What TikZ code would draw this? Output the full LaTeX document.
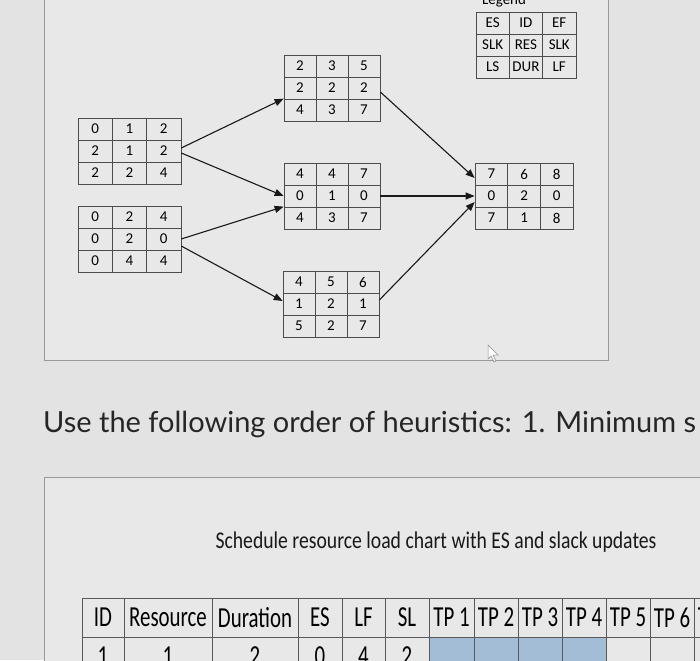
\documentclass[tikz,border=0pt]{standalone}
\usepackage{fontspec}
\usepackage{xcolor}
\usepackage{tikz}
\usetikzlibrary{arrows.meta}

\newfontfamily\cellfont{Carlito}
\newfontfamily\titlefont[FakeStretch=0.82]{Carlito}
\newfontfamily\tabfont[FakeStretch=0.72]{Carlito}
\newfontfamily\promptfont{Lato}

\definecolor{screen}{RGB}{226,227,226}
\definecolor{paper}{RGB}{231,232,231}
\definecolor{tpblue}{RGB}{163,189,214}

% activity box: name, left x, top y, cell width, nine entries (row by row)
\newcommand{\actbox}[5]{%
  \foreach \val [count=\k from 0] in {#5} {%
    \pgfmathtruncatemacro{\rr}{div(\k,3)+1}%
    \pgfmathtruncatemacro{\cc}{mod(\k,3)+1}%
    \node[cell, minimum width=#4pt] (#1-\rr-\cc) at ({#2+(\cc-0.5)*#4}, {#3+(\rr-0.5)*\rowh}) {\val};
  }%
}

\begin{document}
\begin{tikzpicture}[x=1pt,y=-1pt]
        \def\rowh{22}
        \tikzstyle{cell}=[draw=black!70, line width=0.7pt, minimum height=22pt, inner sep=0pt, font=\cellfont\fontsize{15}{18}\selectfont]
        \tikzstyle{link}=[-{Triangle[length=9pt,width=7pt]}, line width=1.1pt, black!90]
        \tikzstyle{tabcell}=[draw=black!65, line width=0.8pt, minimum height=39pt, inner sep=0pt, font=\tabfont\fontsize{29}{31}\selectfont]

        \useasboundingbox (0,0) rectangle (700,660);
        \clip (0,0) rectangle (700,660);
        \fill[screen] (0,0) rectangle (700,660);

        % Panels
        \fill[paper] (44,-5) rectangle (608,360);
        \draw[black!40, line width=0.8pt] (44,-5) -- (44,360) -- (608,360) -- (608,-5);
        \fill[paper] (44,477) rectangle (720,700);
        \draw[black!40, line width=0.8pt] (44,700) -- (44,477) -- (720,477);

        % Nodes
        \node[anchor=base, font=\cellfont\fontsize{15}{18}\selectfont] (legtitle) at (504,5) {Legend};
        \actbox{leg}{476}{12}{33.3}{ES,ID,EF,SLK,RES,SLK,LS,DUR,LF}

        \actbox{a}{78}{118}{34.3}{0,1,2,2,1,2,2,2,4}
        \actbox{b}{78}{206}{34.3}{0,2,4,0,2,0,0,4,4}
        \actbox{c}{284}{55}{32}{2,3,5,2,2,2,4,3,7}
        \actbox{d}{284}{163}{32}{4,4,7,0,1,0,4,3,7}
        \actbox{e}{283}{271}{32}{4,5,6,1,2,1,5,2,7}
        \actbox{f}{475}{163}{32.7}{7,6,8,0,2,0,7,1,8}

        % Edges
        \draw[link] ([yshift=3pt]a-2-3.east) to (c-3-1.north west);
        \draw[link] ([yshift=-2pt]a-2-3.east) to (d-2-1.west);
        \draw[link] (b-2-3.east) to (d-3-1.north west);
        \draw[link] ([yshift=-7pt]b-2-3.east) to ([yshift=3pt]e-2-1.west);
        \draw[link] ([yshift=-4pt]c-2-3.east) to ([yshift=-4pt]f-1-1.west);
        \draw[link] (d-2-3.east) to (f-2-1.west);
        \draw[link] ([yshift=4pt]e-2-3.east) to ([yshift=-6pt]f-2-1.west);

        % mouse pointer
        \draw[black!45, fill=white, line width=0.5pt] (488,345) -- (488,359) -- (491,356) -- (494,362) -- (496,361) -- (493,355) -- (498,355) -- cycle;

        % Text
        \node[anchor=base west, inner sep=0pt, text=black!85, font=\promptfont\fontsize{29}{33}\selectfont] (prompt) at (43,432) {Use the following order of heuristics: 1. Minimum s};
        \node[anchor=base, inner sep=0pt, text=black!90, font=\titlefont\fontsize{24}{28}\selectfont] (charttitle) at (436,548) {Schedule resource load chart with ES and slack updates};

        % Load chart
        \fill[tpblue] (429,637) rectangle (606,680);
        \foreach \xl/\xr/\hd/\vl [count=\j] in {82/124/ID/1, 124/212/Resource/1, 212/298/Duration/2, 298/342/ES/0, 342/385/LF/4, 385/429/SL/2, 429/474/TP 1/, 474/518/TP 2/, 518/562/TP 3/, 562/606/TP 4/, 606/650/TP 5/, 650/694/TP 6/, 694/738/TP 7/} {
            \pgfmathsetmacro{\w}{\xr-\xl}
            \node[tabcell, minimum width=\w pt] (h-\j) at ({(\xl+\xr)/2}, 617.5) {\hd};
            \node[tabcell, minimum width=\w pt] (r-\j) at ({(\xl+\xr)/2}, 656.5) {\vl};
        }

    \end{tikzpicture}
\end{document}
